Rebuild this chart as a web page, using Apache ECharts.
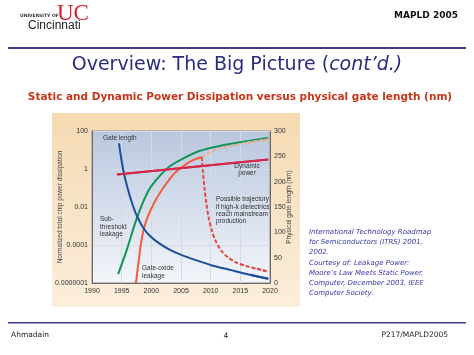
<!DOCTYPE html>
<html><head><meta charset="utf-8">
<script src="https://cdn.jsdelivr.net/npm/echarts@6/dist/echarts.min.js"></script>
<style>html,body{margin:0;padding:0;background:#fff}#c{width:474px;height:355px}</style>
</head><body><div id="c"></div>
<script>
// ---- data ----
// left axis tick labels as printed, bottom to top (equally spaced in the figure)
const powerTickLabels = ['0.0000001', '0.0001', '0.01', '1', '100'];
const yearTicks = [1990, 1995, 2000, 2005, 2010, 2015, 2020];

const subYears = [1994.4, 1995.85, 1997.3, 1998.8, 2000, 2002.9, 2005.4, 2008.2, 2011.6, 2015, 2019.7];
const subLeakage = [2.9e-6, 5.4e-5, 1.5e-3, 0.025, 0.126, 1.23, 3.6, 9.1, 16.6, 25.7, 42.7];

const oxYears = [1997.4, 1997.84, 1998.26, 1998.76, 1999.49, 2000.62, 2001.8, 2002.86, 2004.16, 2005.68, 2007.02, 2008.49];
const oxLeakage = [1e-6, 1.23e-5, 1.23e-4, 7.6e-4, 3.6e-3, 0.02, 0.081, 0.24, 0.71, 1.66, 2.9, 4.3];

const highKYears = [2008.49, 2008.68, 2008.93, 2009.27, 2009.69, 2010.23, 2010.9, 2011.74, 2012.92, 2014.44, 2016.12, 2017.8, 2019.41];
const highKLeakage = [4.3, 0.85, 0.123, 0.0155, 2.5e-3, 5.2e-4, 1.5e-4, 5.2e-5, 2.2e-5, 1.15e-5, 7.6e-6, 5.6e-6, 4.2e-6];

const noHighKYears = [2008.49, 2009.9, 2011.57, 2016.07, 2019.66];
const noHighKLeakage = [4.3, 7.6, 12.3, 24, 36];

const dynYears = [1994.2, 2019.7];
const dynPower = [0.51, 3.2];

const gateYears = [1994.55, 1994.89, 1995.28, 1995.9, 1996.69, 1997.53, 1998.65, 1999.78, 2001.46, 2003.15, 2004.83, 2007.36, 2010.23, 2013.26, 2016.63, 2019.7];
const gateLength = [275.7, 248.7, 222, 191.5, 159.9, 133.3, 108.7, 92.9, 77.1, 65.3, 56.4, 45.6, 34.7, 25.9, 16.2, 8.3];

// ---- build ----
const logPts = (xs, vs) => xs.map((x, i) => [x, Math.log10(vs[i])]);
const linPts = (xs, vs) => xs.map((x, i) => [x, vs[i]]);

function arrow(pts, color, width, type) {
  const n = pts.length;
  return {
    silent: true, animation: false,
    symbol: ['none', 'arrow'], symbolSize: [0, 8],
    label: { show: false },
    lineStyle: { color: color, width: width, type: type || 'solid' },
    emphasis: { disabled: true },
    data: [[{ coord: pts[n - 2] }, { coord: pts[n - 1] }]]
  };
}

const FONT = 'Liberation Sans';
const subPts = logPts(subYears, subLeakage);
const oxPts = logPts(oxYears, oxLeakage);
const hkPts = logPts(highKYears, highKLeakage);
const nhkPts = logPts(noHighKYears, noHighKLeakage);
const dynPts = logPts(dynYears, dynPower);
const gatePts = linPts(gateYears, gateLength);

const C_BLUE = '#1b4f9c', C_GREEN = '#12945a', C_OX = '#ef5f3c', C_DYN = '#d42a4c', C_HK = '#e8473e', C_TAN = '#e6b196';

const chart = echarts.init(document.getElementById('c'), null, { renderer: 'canvas' });
const txt = (x, y, text, font, fill, align, extra) => Object.assign({
  type: 'text', x: x, y: y, z: 100,
  style: { text: text, font: font, fill: fill, align: align || 'left', textAlign: align || 'left', verticalAlign: 'middle', textVerticalAlign: 'middle' }
}, extra || {});

const lineSeries = (name, yIdx, data, color, dash, withArrow) => ({
  type: 'line', name: name, yAxisIndex: yIdx, data: data, smooth: 0.3,
  showSymbol: false, lineStyle: { color: color, width: 2, type: dash || 'solid' },
  markLine: withArrow ? arrow(data, color, 2, dash) : undefined
});

chart.setOption({
  animation: false,
  backgroundColor: '#ffffff',
  textStyle: { fontFamily: FONT },
  grid: {
    left: 92, top: 131, width: 178, height: 152, show: true,
    borderColor: '#8d8d8d', borderWidth: 1,
    backgroundColor: new echarts.graphic.LinearGradient(0, 0, 0, 1, [
      { offset: 0, color: '#b9c7de' }, { offset: 1, color: '#f3f5fa' }])
  },
  xAxis: {
    type: 'value', min: yearTicks[0], max: yearTicks[yearTicks.length - 1], interval: 5,
    axisLine: { show: true, onZero: false, lineStyle: { color: '#6a6a6a' } },
    axisTick: { show: false },
    axisLabel: { fontSize: 7, color: '#333', margin: 5, fontFamily: FONT, formatter: v => String(v) },
    splitLine: { show: true, lineStyle: { color: '#d5dbe6', width: 1 } }
  },
  yAxis: [{
    type: 'value', min: -6, max: 2, interval: 2, position: 'left',
    name: 'Normalized total chip power dissipation', nameLocation: 'middle', nameGap: 28, nameRotate: 90,
    nameMoveOverlap: false,
    nameTextStyle: { fontSize: 6.5, color: '#444', fontFamily: FONT },
    axisLine: { show: true, onZero: false, lineStyle: { color: '#6a6a6a' } },
    axisTick: { show: false },
    axisLabel: { fontSize: 7, color: '#333', margin: 4, fontFamily: FONT,
      formatter: v => powerTickLabels[Math.round((v + 6) / 2)] },
    splitLine: { show: true, lineStyle: { color: '#d5dbe6', width: 1 } }
  }, {
    type: 'value', min: 0, max: 300, interval: 50, position: 'right',
    name: 'Physical gate length (nm)', nameLocation: 'middle', nameGap: 16, nameRotate: 90,
    nameMoveOverlap: false,
    nameTextStyle: { fontSize: 6.5, color: '#444', fontFamily: FONT },
    axisLine: { show: true, onZero: false, lineStyle: { color: '#6a6a6a' } },
    axisTick: { show: false },
    axisLabel: { fontSize: 7, color: '#333', margin: 4, fontFamily: FONT },
    splitLine: { show: false }
  }],
  series: [
    lineSeries('Sub-threshold leakage', 0, subPts, C_GREEN),
    lineSeries('Gate-oxide leakage', 0, oxPts, C_OX),
    lineSeries('Gate-oxide (no high-k)', 0, nhkPts, C_TAN, [4, 2], true),
    lineSeries('High-k trajectory', 0, hkPts, C_HK, [4, 2], true),
    lineSeries('Dynamic power', 0, dynPts, C_DYN, null, true),
    lineSeries('Gate length', 1, gatePts, C_BLUE, null, true)
  ],
  graphic: [
    // chart panel
    { type: 'rect', z: -10, shape: { x: 52, y: 113, width: 248, height: 194 },
      style: { fill: new echarts.graphic.LinearGradient(0, 0, 0, 1, [
        { offset: 0, color: '#f5dab2' }, { offset: 1, color: '#fbeedb' }]) } },
    // rules
    { type: 'rect', z: 5, shape: { x: 8, y: 47, width: 458, height: 2 }, style: { fill: '#3d3d8e' } },
    { type: 'rect', z: 5, shape: { x: 8, y: 322, width: 458, height: 1.5 }, style: { fill: '#3d3d8e' } },
    // logo
    txt(20, 16, 'UNIVERSITY OF', 'bold 4.5px "DejaVu Sans"', '#333'),
    txt(57, 14, 'UC', '23px "Liberation Serif"', '#d6202c'),
    txt(28, 26, 'Cincinnati', '12px "Liberation Sans"', '#222'),
    txt(458, 16, 'MAPLD 2005', 'bold 9px "DejaVu Sans"', '#111', 'right'),
    // titles
    { type: 'text', x: 237, y: 65, z: 100, style: {
      text: '{a|Overview: The Big Picture (}{b|cont\u2019d.)}', align: 'center', textAlign: 'center',
      verticalAlign: 'middle', textVerticalAlign: 'middle',
      rich: { a: { font: '19px "DejaVu Sans"', fill: '#2b2b80', color: '#2b2b80' },
              b: { font: 'italic 19px "DejaVu Sans"', fill: '#2b2b80', color: '#2b2b80' } } } },
    txt(240, 97, 'Static and Dynamic Power Dissipation versus physical gate length (nm)', 'bold 10.5px "DejaVu Sans"', '#c8361a', 'center'),
    // in-chart annotations
    txt(103, 138, 'Gate length', '6.5px "Liberation Sans"', '#333'),
    txt(247, 166, 'Dynamic', '6.5px "Liberation Sans"', '#333', 'center'),
    txt(247, 173.5, 'power', '6.5px "Liberation Sans"', '#333', 'center'),
    txt(216, 199.5, 'Possible trajectory', '6.5px "Liberation Sans"', '#333'),
    txt(216, 206.8, 'if high-k dielectrics', '6.5px "Liberation Sans"', '#333'),
    txt(216, 214.1, 'reach mainstream', '6.5px "Liberation Sans"', '#333'),
    txt(216, 221.4, 'production', '6.5px "Liberation Sans"', '#333'),
    txt(100, 219, 'Sub-', '6.5px "Liberation Sans"', '#333'),
    txt(100, 226.8, 'threshold', '6.5px "Liberation Sans"', '#333'),
    txt(100, 234.6, 'leakage', '6.5px "Liberation Sans"', '#333'),
    txt(142, 268.3, 'Gate-oxide', '6.5px "Liberation Sans"', '#333'),
    txt(142, 275.8, 'leakage', '6.5px "Liberation Sans"', '#333'),
    // citation
    txt(309, 232.3, 'International Technology Roadmap', 'italic 7px "DejaVu Sans"', '#3535a8'),
    txt(309, 242, 'for Semiconductors (ITRS) 2001,', 'italic 7px "DejaVu Sans"', '#3535a8'),
    txt(309, 251.7, '2002.', 'italic 7px "DejaVu Sans"', '#3535a8'),
    txt(309, 263.3, 'Courtesy of: Leakage Power:', 'italic 7px "DejaVu Sans"', '#3535a8'),
    txt(309, 273.1, 'Moore\u2019s Law Meets Static Power,', 'italic 7px "DejaVu Sans"', '#3535a8'),
    txt(309, 282.9, 'Computer, December 2003, IEEE', 'italic 7px "DejaVu Sans"', '#3535a8'),
    txt(309, 292.7, 'Computer Society.', 'italic 7px "DejaVu Sans"', '#3535a8'),
    // footer
    txt(11, 335, 'Ahmadain', '7.5px "DejaVu Sans"', '#222'),
    txt(226, 336, '4', '7.5px "DejaVu Sans"', '#222', 'center'),
    txt(448, 335, 'P217/MAPLD2005', '7.5px "DejaVu Sans"', '#222', 'right')
  ]
});
</script></body></html>
